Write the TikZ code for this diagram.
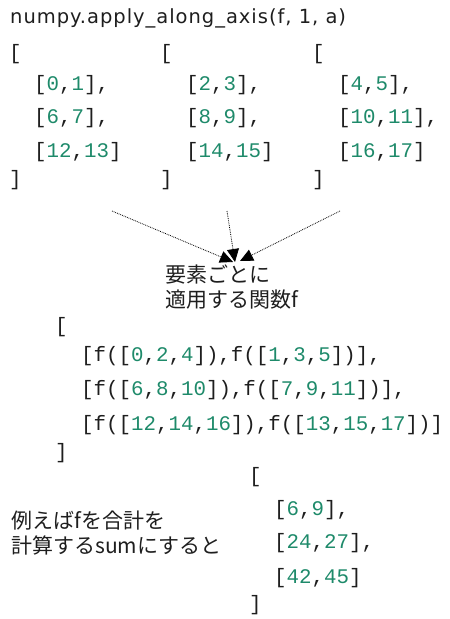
\documentclass[tikz,border=0pt]{standalone}
\usepackage{fontspec}
\usetikzlibrary{arrows.meta}
\setmainfont{Noto Sans CJK JP}
\newfontfamily\monof{Liberation Mono}
\newfontfamily\latf[LetterSpace=5]{DejaVu Sans}
\definecolor{numgreen}{RGB}{30,138,106}
\definecolor{txt}{RGB}{30,30,30}
\newcommand\gn[1]{\textcolor{numgreen}{#1}}
\tikzset{
  code/.style={font=\monof\fontsize{20.8}{24}\selectfont, text=txt, inner sep=0pt, anchor=west},
  jp/.style={font=\fontsize{21}{25}\selectfont, text=txt, inner sep=0pt, anchor=west, align=left},
  titlebox/.style={font=\latf\fontsize{19.5}{23}\selectfont, text=txt, inner sep=0pt, anchor=west},
  flow/.style={densely dotted, thick, draw=black, -{Triangle[length=13pt,width=12pt]}}
}
\begin{document}
\begin{tikzpicture}[x=1pt,y=-1pt]
\useasboundingbox (0,0) rectangle (450,619);
\node[titlebox] (title) at (10,18) {numpy.apply\_along\_axis(f, 1, a)};
% block 1
\node[code] (a1o) at (9,54) {[};
\node[code] (a1r1) at (34,85) {[\gn{0},\gn{1}],};
\node[code] (a1r2) at (34,118) {[\gn{6},\gn{7}],};
\node[code] (a1r3) at (34,152) {[\gn{12},\gn{13}]};
\node[code] (a1c) at (9,180) {]};
% block 2
\node[code] (a2o) at (160,54) {[};
\node[code] (a2r1) at (186,85) {[\gn{2},\gn{3}],};
\node[code] (a2r2) at (186,118) {[\gn{8},\gn{9}],};
\node[code] (a2r3) at (186,152) {[\gn{14},\gn{15}]};
\node[code] (a2c) at (160,180) {]};
% block 3
\node[code] (a3o) at (312,54) {[};
\node[code] (a3r1) at (338,85) {[\gn{4},\gn{5}],};
\node[code] (a3r2) at (338,118) {[\gn{10},\gn{11}],};
\node[code] (a3r3) at (338,152) {[\gn{16},\gn{17}]};
\node[code] (a3c) at (312,180) {]};
% arrows
\coordinate (s1) at (112,211);
\coordinate (s2) at (227,211);
\coordinate (s3) at (340,211);
\coordinate (t1) at (233,262);
\coordinate (t2) at (235,262);
\coordinate (t3) at (240,261);
\draw[flow] (s1) -- (t1);
\draw[flow] (s2) -- (t2);
\draw[flow] (s3) -- (t3);
\node[jp] (func) at (165,287) {要素ごとに\\適用する関数f};
% block result
\node[code] (bo) at (55,327) {[};
\node[code] (br1) at (81,356) {[f([\gn{0},\gn{2},\gn{4}]),f([\gn{1},\gn{3},\gn{5}])],};
\node[code] (br2) at (81,390) {[f([\gn{6},\gn{8},\gn{10}]),f([\gn{7},\gn{9},\gn{11}])],};
\node[code] (br3) at (81,425) {[f([\gn{12},\gn{14},\gn{16}]),f([\gn{13},\gn{15},\gn{17}])]};
\node[code] (bc) at (55,453) {]};
% sum example
\node[jp] (ex) at (11,533) {例えばfを合計を\\計算するsumにすると};
\node[code] (co) at (249,477) {[};
\node[code] (cr1) at (274,510) {[\gn{6},\gn{9}],};
\node[code] (cr2) at (274,543) {[\gn{24},\gn{27}],};
\node[code] (cr3) at (274,578) {[\gn{42},\gn{45}]};
\node[code] (cc) at (249,605) {]};
\end{tikzpicture}
\end{document}
